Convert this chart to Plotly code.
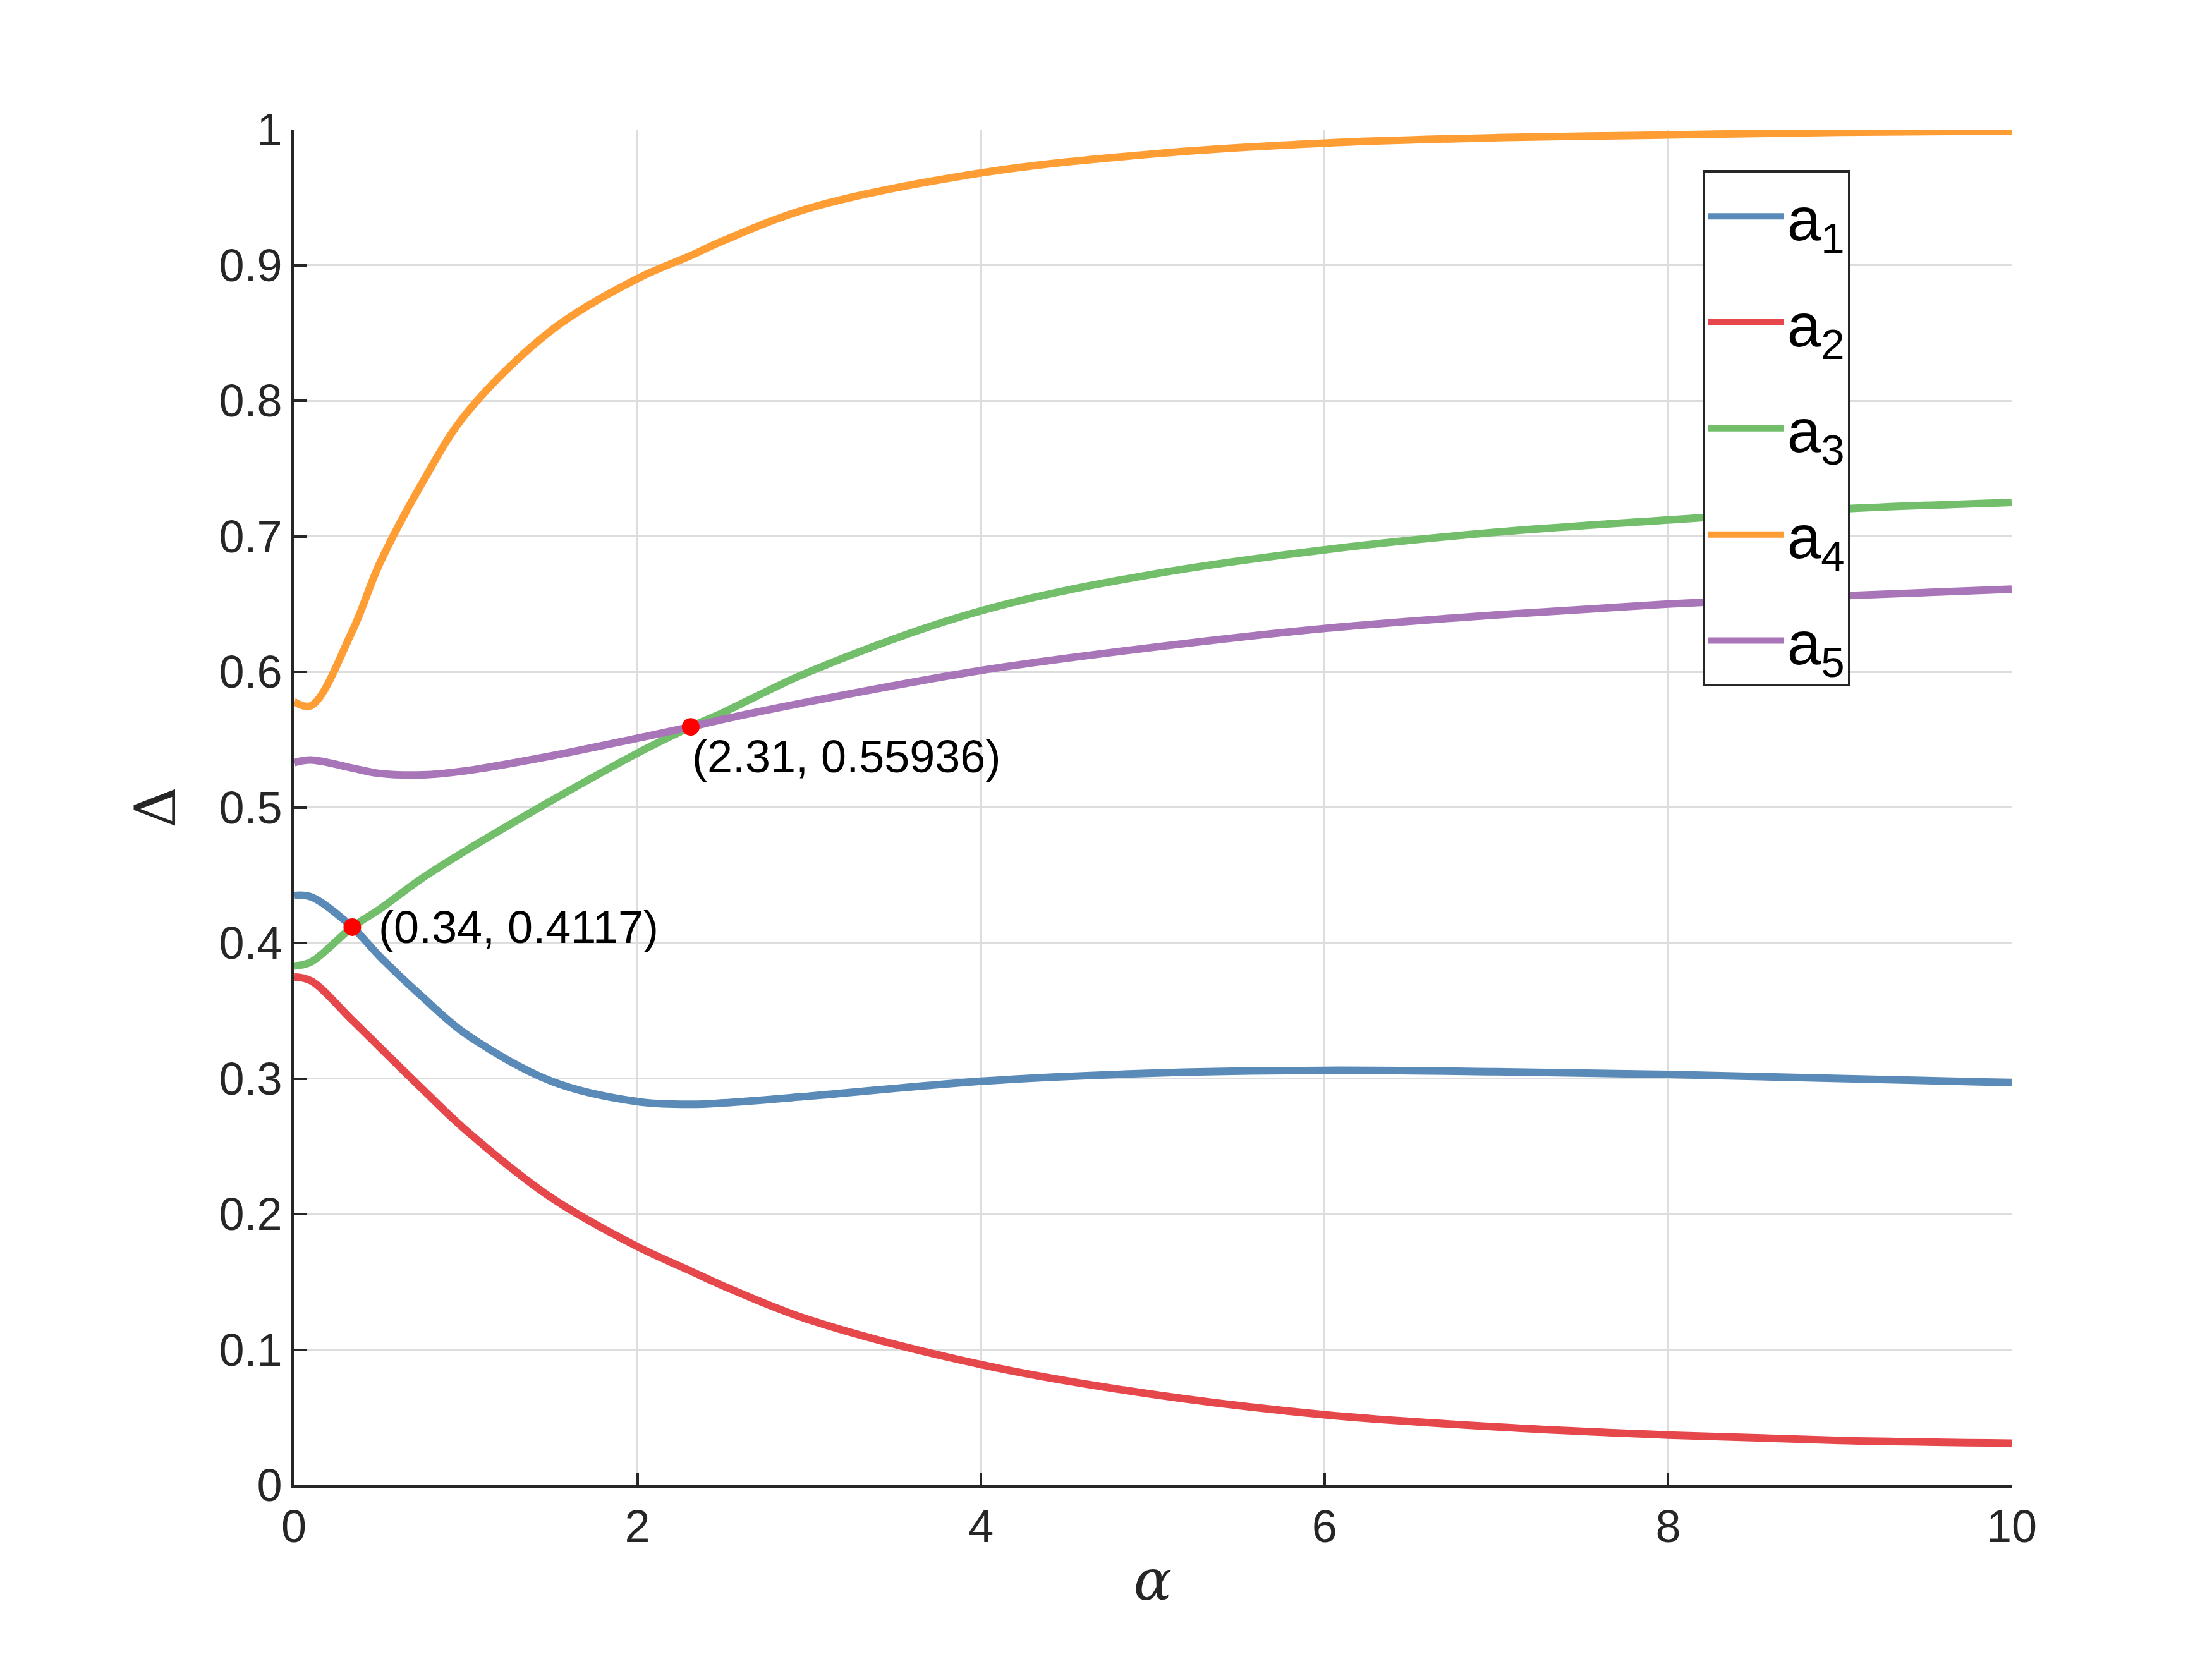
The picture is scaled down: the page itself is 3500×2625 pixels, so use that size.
import plotly.graph_objects as go

alpha = [0, 0.1, 0.34, 0.5, 0.75, 1, 1.5, 2, 2.31, 2.5, 3, 4, 5, 6, 7, 8, 9, 10]

a1 = [0.435, 0.434, 0.4117, 0.39, 0.36, 0.333, 0.298, 0.283, 0.281, 0.282, 0.287, 0.298, 0.304, 0.306, 0.305, 0.303, 0.300, 0.297]
a2 = [0.375, 0.372, 0.343, 0.323, 0.292, 0.262, 0.212, 0.176, 0.158, 0.147, 0.122, 0.089, 0.067, 0.052, 0.043, 0.037, 0.033, 0.031]
a3 = [0.383, 0.386, 0.4117, 0.425, 0.448, 0.468, 0.505, 0.54, 0.55936, 0.57, 0.6, 0.645, 0.672, 0.69, 0.703, 0.712, 0.72, 0.725]
a4 = [0.578, 0.575, 0.63, 0.68, 0.74, 0.79, 0.852, 0.89, 0.907, 0.918, 0.942, 0.968, 0.982, 0.99, 0.994, 0.996, 0.998, 0.999]
a5 = [0.533, 0.535, 0.529, 0.525, 0.524, 0.527, 0.538, 0.551, 0.55936, 0.565, 0.578, 0.601, 0.618, 0.632, 0.642, 0.65, 0.656, 0.661]

series = [("a<sub>1</sub>", a1, "#5A8AB8"),
          ("a<sub>2</sub>", a2, "#E6474B"),
          ("a<sub>3</sub>", a3, "#72BE6B"),
          ("a<sub>4</sub>", a4, "#FF9D35"),
          ("a<sub>5</sub>", a5, "#A875B8")]

cross_x = [0.34, 2.31]
cross_y = [0.4117, 0.55936]
cross_labels = ["(0.34, 0.4117)", "(2.31, 0.55936)"]

fig = go.Figure()
for i, (name, y, color) in enumerate(series):
    fig.add_trace(go.Scatter(x=alpha, y=y, name=name, mode="lines", legendgroup=str(i),
                             line=dict(color=color, width=12, shape="spline", smoothing=1.0)))

fig.add_trace(go.Scatter(x=cross_x, y=cross_y, mode="markers", showlegend=False,
                         marker=dict(color="red", size=28)))

fig.add_annotation(x=cross_x[0], y=cross_y[0], text=cross_labels[0], showarrow=False,
                   xanchor="left", yanchor="middle", xshift=40,
                   font=dict(size=72, color="black", family="Arial"))
fig.add_annotation(x=cross_x[1], y=cross_y[1], text=cross_labels[1], showarrow=False,
                   xanchor="left", yanchor="top", xshift=0, yshift=-5,
                   font=dict(size=72, color="black", family="Arial"))

axis_common = dict(showgrid=True, gridcolor="#DDDDDD", gridwidth=3,
                   showline=True, linecolor="#262626", linewidth=4,
                   ticks="inside", ticklen=20, tickwidth=4, tickcolor="#262626",
                   zeroline=False,
                   tickfont=dict(size=72, color="#262626", family="Arial"))

fig.update_xaxes(range=[0, 10], dtick=2, **axis_common,
                 title=dict(text="<i>α</i>", font=dict(size=90, family="DejaVu Serif", color="#262626")))
fig.update_yaxes(range=[0, 1], tickvals=[i / 10 for i in range(11)],
                 ticktext=["0", "0.1", "0.2", "0.3", "0.4", "0.5", "0.6", "0.7", "0.8", "0.9", "1"],
                 **axis_common,
                 title=dict(text="Δ", font=dict(size=90, family="DejaVu Serif", color="#262626"),
                            standoff=40))

fig.update_layout(width=3500, height=2625, plot_bgcolor="white", paper_bgcolor="white",
                  margin=dict(l=457, r=325, t=197, b=283),
                  legend=dict(x=0.82, y=0.97, xanchor="left", yanchor="top",
                              bordercolor="#262626", borderwidth=4, bgcolor="white",
                              font=dict(size=96, color="black", family="Arial"),
                              tracegroupgap=40, itemwidth=120))

fig.write_html("out.html")
